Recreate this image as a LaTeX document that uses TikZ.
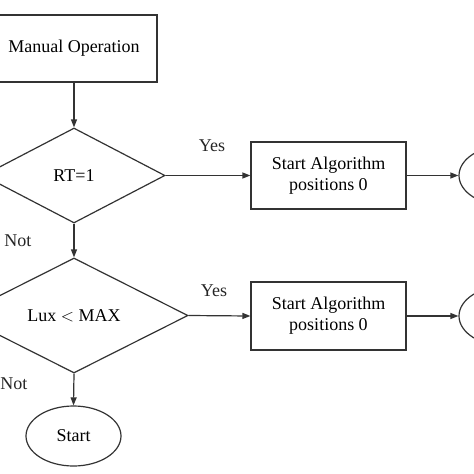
\documentclass[tikz,border=0pt]{standalone}
\usepackage{fontspec}
\setmainfont{Liberation Serif}
\usetikzlibrary{shapes.geometric,arrows.meta}
\begin{document}
\begin{tikzpicture}[x=1pt,y=-1pt,
  font=\fontsize{18}{21}\selectfont,
  line/.style={draw=black!80, line width=1.2pt},
  arr/.style={line, -{Triangle[length=8pt,width=6pt]}},
  procbox/.style={line, rectangle, fill=white, inner sep=0pt, align=center},
  decision/.style={line, diamond, shape aspect=2, inner sep=0pt, align=center},
  terminal/.style={line, ellipse, inner sep=0pt, minimum width=94pt, minimum height=60pt},
  lbl/.style={inner sep=0pt, text=black!85}]
\useasboundingbox (0,0) rectangle (474,474);
\clip (0,0) rectangle (474,474);
\fill[white] (0,0) rectangle (474,474);
\node[procbox, minimum width=166pt, minimum height=67pt] (mo) at (74,48.5) {Manual Operation};
\node[decision, minimum width=182pt, minimum height=95pt] (d1) at (74,175.5) {RT=1};
\node[procbox, minimum width=155pt, minimum height=67pt] (b1) at (328.5,175.5) {Start Algorithm\\positions 0};
\node[terminal] (e1) at (506,175.5) {};
\node[decision, minimum width=228pt, minimum height=115pt] (d2) at (74,315.5) {Lux $<$ MAX};
\node[procbox, minimum width=155pt, minimum height=68pt] (b2) at (328.5,316) {Start Algorithm\\positions 0};
\node[terminal] (e2) at (506,316) {};
\node[terminal, minimum width=95pt] (st) at (73.5,436) {Start};
\node[lbl] (y1) at (212,146) {Yes};
\node[lbl] (y2) at (214,291) {Yes};
\node[lbl] (n1) at (18,241) {Not};
\node[lbl] (n2) at (14,384) {Not};
\draw[arr] (mo.south) -- (d1.north);
\draw[arr] (d1.east) -- (b1.west);
\draw[arr] (b1.east) -- (e1.west);
\draw[arr] (d1.south) -- (d2.north);
\draw[arr] (d2.east) -- (b2.west);
\draw[arr] (b2.east) -- (e2.west);
\draw[arr] (d2.south) -- (st.north);
\end{tikzpicture}
\end{document}
